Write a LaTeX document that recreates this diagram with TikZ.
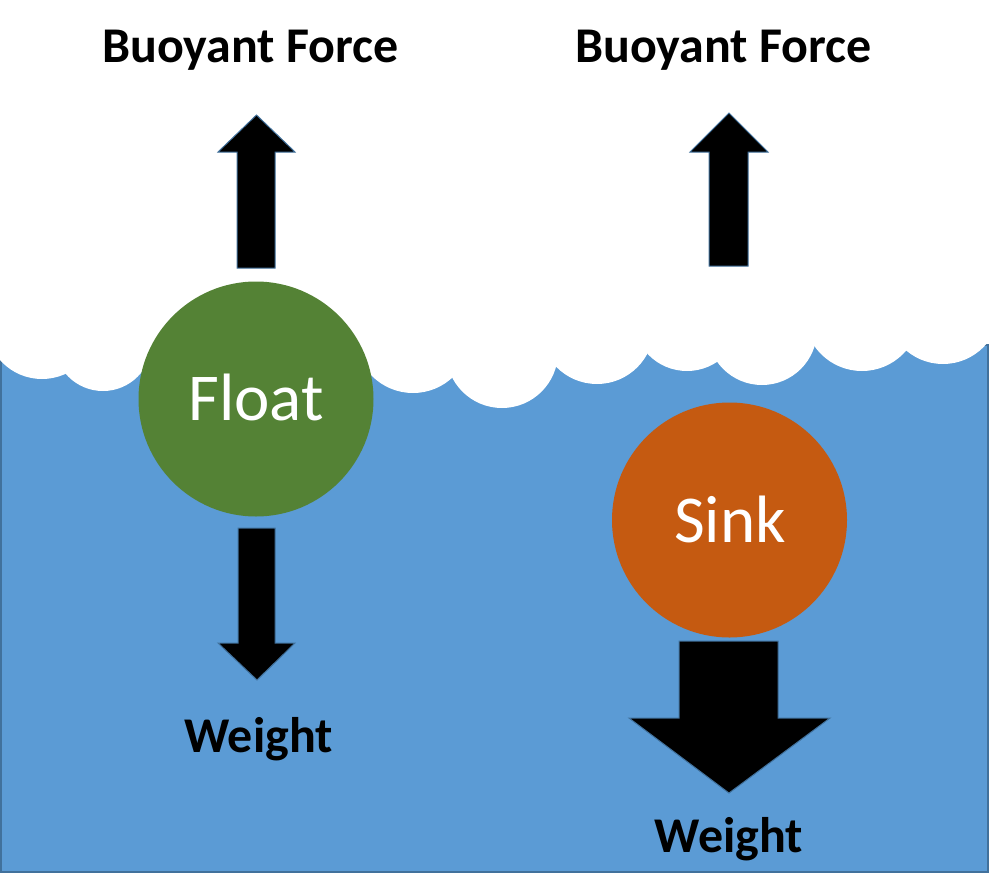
\documentclass[tikz,border=0pt]{standalone}
\usepackage{fontspec}
\setmainfont{Carlito}

\definecolor{water}{HTML}{5B9BD5}
\definecolor{waterline}{HTML}{41719C}
\definecolor{floatgreen}{HTML}{548235}
\definecolor{sinkorange}{HTML}{C55A11}

\begin{document}
\begin{tikzpicture}[x=1pt,y=-1pt,
  ball/.style={circle,inner sep=0pt,minimum size=235pt},
  force/.style={fill=black,draw=waterline,line width=1pt,line join=miter},
  forcelabel/.style={anchor=base,font=\fontsize{50}{60}\selectfont\bfseries},
  balllabel/.style={anchor=base,text=white,font=\fontsize{67}{80}\selectfont}]

\useasboundingbox (0,0) rectangle (989,873);

% water
\draw[fill=water,draw=waterline,line width=2pt] (1,345) rectangle (988,872);

% waves (white bumps over the water)
\foreach \cx/\cy/\r in {42/323/56, 103/342/49, 413/335/58, 502/352/56,
                        597/327/57, 687/317/54, 762/330/55, 862/313/58, 943/307/57}
  \fill[white] (\cx,\cy) circle[radius=\r];

% the two balls
\node[ball,fill=floatgreen] (float) at (256,399) {};
\node[ball,fill=sinkorange] (sink) at (729.5,520) {};
\node[balllabel] (floattext) at (256,420) {Float};
\node[balllabel] (sinktext) at (730,542) {Sink};

% buoyant force arrows
\draw[force] (256.5,115) -- (295,152) -- (275,152) -- (275,268)
  -- (237,268) -- (237,152) -- (218,152) -- cycle;
\draw[force] (729,113) -- (768,152) -- (748,152) -- (748,266)
  -- (709,266) -- (709,152) -- (690,152) -- cycle;

% weight arrows
\draw[force] (238,528) -- (275,528) -- (275,643) -- (295,643)
  -- (257,680) -- (218,643) -- (238,643) -- cycle;
\draw[force] (679,641) -- (778,641) -- (778,718) -- (830,718)
  -- (729,793) -- (629,718) -- (679,718) -- cycle;

% labels
\node[forcelabel] (buoyfloat) at (250.5,62) {Buoyant Force};
\node[forcelabel] (buoysink) at (723.5,62) {Buoyant Force};
\node[forcelabel] (weightfloat) at (258.5,752) {Weight};
\node[forcelabel] (weightsink) at (729,852) {Weight};

\end{tikzpicture}
\end{document}
